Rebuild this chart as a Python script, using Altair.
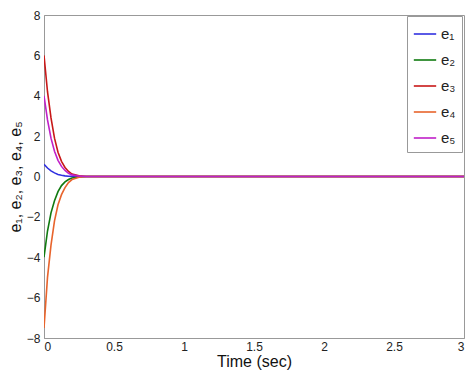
import altair as alt
import pandas as pd

t = [0, 0.025, 0.05, 0.075, 0.1, 0.125, 0.15, 0.175, 0.2, 0.25, 0.3, 3.0]
e1 = [0.6, 0.42, 0.28, 0.18, 0.10, 0.06, 0.03, 0.015, 0.005, 0, 0, 0]
e2 = [-4.0, -2.7, -1.8, -1.2, -0.75, -0.45, -0.27, -0.15, -0.07, -0.02, 0, 0]
e3 = [6.0, 4.2, 2.9, 1.9, 1.2, 0.75, 0.45, 0.25, 0.12, 0.03, 0, 0]
e4 = [-7.5, -5.0, -3.4, -2.2, -1.4, -0.9, -0.55, -0.3, -0.15, -0.04, 0, 0]
e5 = [4.0, 2.8, 1.9, 1.25, 0.8, 0.5, 0.3, 0.16, 0.08, 0.02, 0, 0]

names = ["e₁", "e₂", "e₃", "e₄", "e₅"]
series = [e1, e2, e3, e4, e5]
colors = ["#3030e0", "#107a10", "#c81818", "#e8642c", "#c020c8"]

rows = []
for n, s in zip(names, series):
    for ti, v in zip(t, s):
        rows.append({"t": ti, "v": v, "s": n})
df = pd.DataFrame(rows)

chart = alt.Chart(df).mark_line(strokeWidth=1.6, clip=True).encode(
    x=alt.X("t:Q", scale=alt.Scale(domain=[0, 3], nice=False),
            axis=alt.Axis(title="Time (sec)", values=[0, 0.5, 1, 1.5, 2, 2.5, 3],
                          format="~g", grid=False, ticks=False, labelPadding=3,
                          titlePadding=1)),
    y=alt.Y("v:Q", scale=alt.Scale(domain=[-8, 8], nice=False),
            axis=alt.Axis(title="e₁, e₂, e₃, e₄, e₅", values=list(range(-8, 9, 2)),
                          grid=False, ticks=False, labelPadding=4, titlePadding=3)),
    color=alt.Color("s:N", scale=alt.Scale(domain=names, range=colors),
                    legend=alt.Legend(title=None, orient="none", legendX=363, legendY=1,
                                      symbolType="stroke", symbolSize=500,
                                      symbolStrokeWidth=1.6, labelFontSize=15,
                                      rowPadding=6, padding=6,
                                      strokeColor="#999999", fillColor="white")),
    order="t:Q",
).properties(
    width=420, height=323,
    autosize=alt.AutoSizeParams(type="none"),
    padding={"left": 36, "top": 7, "right": 2, "bottom": 33},
).configure_view(
    stroke="#999999", strokeWidth=1
).configure_axis(
    domainColor="#999999", labelColor="#222222", titleColor="#111111",
    labelFont="Liberation Sans", titleFont="Liberation Sans",
    labelFontSize=12, titleFontWeight="normal", titleFontSize=16
).configure_legend(
    labelFont="Liberation Sans", labelColor="#222222"
)

chart.save("out.html", embed_options={"renderer": "svg", "actions": False})
